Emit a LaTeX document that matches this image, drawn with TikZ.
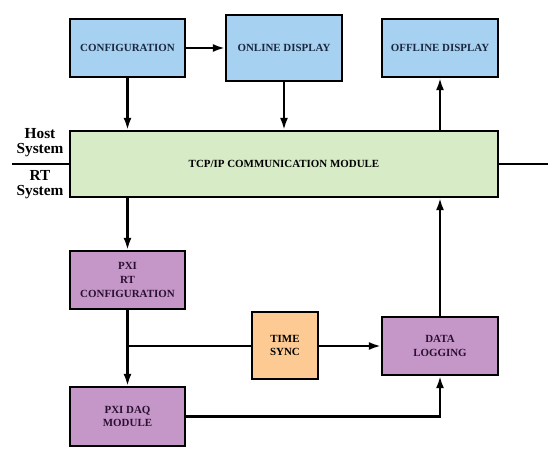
\documentclass[tikz,border=0pt]{standalone}
\usepackage{fontspec}
\setmainfont{Liberation Serif}
\usetikzlibrary{arrows.meta,calc}
\definecolor{boxblue}{HTML}{A6D1F0}
\definecolor{boxgreen}{HTML}{D6EBC6}
\definecolor{boxpurple}{HTML}{C597C9}
\definecolor{boxorange}{HTML}{FCCA92}
\definecolor{txtblue}{HTML}{1A2740}
\definecolor{txtpurple}{HTML}{2A1030}
\begin{document}
\begin{tikzpicture}[x=0.75pt,y=-0.75pt,
  blk/.style={draw=black,line width=1.7pt,inner sep=0pt,align=center,
    font=\fontsize{8.2}{10.2}\selectfont\bfseries},
  conn/.style={line width=1.6pt,draw=black},
  arr/.style={conn,-{Latex[length=9pt,width=6pt]}},
  side/.style={font=\fontsize{11.5}{11.5}\selectfont\bfseries,align=center,inner sep=0pt}]
\useasboundingbox (0,0) rectangle (557,456);
\node[blk,fill=boxblue,text=txtblue,minimum width=86.25pt,minimum height=43.5pt] (cfg) at (127.5,48) {CONFIGURATION};
\node[blk,fill=boxblue,text=txtblue,minimum width=87pt,minimum height=49.5pt] (online) at (284,48) {ONLINE DISPLAY};
\node[blk,fill=boxblue,text=txtblue,minimum width=87pt,minimum height=43.5pt] (offline) at (440,48) {OFFLINE DISPLAY};
\node[blk,fill=boxgreen,text=black,minimum width=321pt,minimum height=49.5pt] (tcp) at (284,164) {TCP/IP COMMUNICATION MODULE};
\node[blk,fill=boxpurple,text=txtpurple,minimum width=86.25pt,minimum height=43.5pt] (pxirt) at (127.5,280) {PXI\\RT\\CONFIGURATION};
\node[blk,fill=boxorange,text=black,minimum width=49.5pt,minimum height=50pt] (sync) at (285,345.5) {TIME\\SYNC};
\node[blk,fill=boxpurple,text=txtpurple,minimum width=87pt,minimum height=43.5pt] (dlog) at (440,346) {DATA\\LOGGING};
\node[blk,fill=boxpurple,text=txtpurple,minimum width=86.25pt,minimum height=44.25pt] (daq) at (127.5,416.5) {PXI DAQ\\MODULE};
\node[side] (host) at (40,142.5) {Host\\System};
\node[side] (rt) at (40,184.5) {RT\\System};
\coordinate (lend) at (12,164);
\coordinate (rend) at (548,164);
\coordinate (branch) at (127.5,346);
\draw[arr] (cfg.east) -- (online.west |- cfg.east);
\draw[arr] (cfg.south) -- (cfg.south |- tcp.north);
\draw[arr] (online.south) -- (online.south |- tcp.north);
\draw[arr] (offline.south |- tcp.north) -- (offline.south);
\draw[conn] (lend) -- (tcp.west);
\draw[conn] (tcp.east) -- (rend);
\draw[arr] (pxirt.north |- tcp.south) -- (pxirt.north);
\draw[arr] (pxirt.south) -- (daq.north);
\draw[conn] (branch) -- (sync.west |- branch);
\draw[arr] (sync.east |- dlog.west) -- (dlog.west);
\draw[arr] (daq.east) -| (dlog.south);
\draw[arr] (dlog.north) -- (dlog.north |- tcp.south);
\end{tikzpicture}
\end{document}
